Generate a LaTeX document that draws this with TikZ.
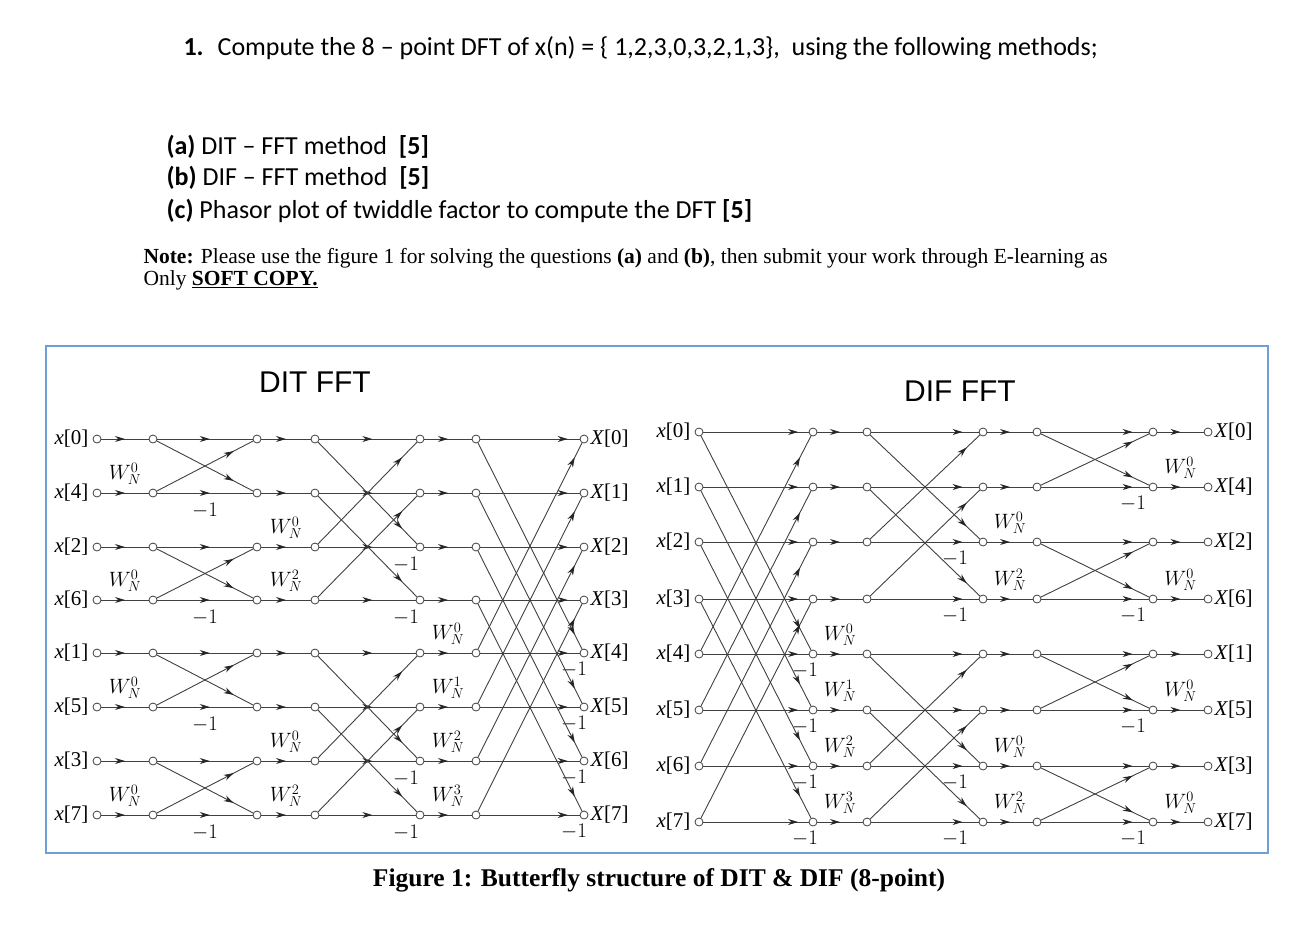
\documentclass[tikz,border=0pt]{standalone}
\usepackage{fontspec}
\setmainfont{Liberation Serif}
\newfontfamily\calfnt{Carlito}
\newfontfamily\arsfnt{Liberation Sans}
\usetikzlibrary{arrows.meta,decorations.markings,calc}
\begin{document}
\begin{tikzpicture}[x=1pt,y=-1pt,
  ln/.style={draw=black!75,line width=0.9pt},
  am/.style={ln,postaction={decorate},decoration={markings,mark=at position #1 with {\arrow[black!85]{Stealth[length=10pt,width=6pt]}}}},
  am/.default=0.55,
  nd/.style={circle,draw=black!75,fill=white,line width=0.8pt,inner sep=0pt,minimum size=8pt},
  lb/.style={font=\fontsize{21}{21}\selectfont},
  tw/.style={font=\fontsize{20}{20}\selectfont,inner sep=0pt},
  hd/.style={anchor=west,font=\calfnt\fontsize{26}{26}\selectfont},
  nt/.style={anchor=west,font=\fontsize{21.5}{21.5}\selectfont}]
\useasboundingbox (0,0) rectangle (1304,932);
% header
\node[hd] (h1) at (180,48) {\textbf{1.}\hspace{14pt}Compute the 8 – point DFT of x(n) = \{ 1,2,3,0,3,2,1,3\},\ \ using the following methods;};
\node[hd] (h2) at (163,147) {\textbf{(a)} DIT – FFT method\ \ \textbf{[5]}};
\node[hd] (h3) at (163,178) {\textbf{(b)} DIF – FFT method\ \ \textbf{[5]}};
\node[hd] (h4) at (163,211) {\textbf{(c)}\ Phasor plot of twiddle factor to compute the DFT \textbf{[5]}};
\node[nt] (n1) at (140,258) {\textbf{Note:} Please use the figure 1 for solving the questions \textbf{(a)} and \textbf{(b)}, then submit your work through E-learning as};
\node[nt] (n2) at (140,280) {Only \textbf{\underline{SOFT COPY.}}};
\draw[draw={rgb,255:red,110;green,160;blue,215},line width=1.2pt] (46,346) rectangle (1268,853);
\node[font=\arsfnt\fontsize{30}{30}\selectfont] (t1) at (315,382) {DIT FFT};
\node[font=\arsfnt\fontsize{30}{30}\selectfont] (t2) at (960,391) {DIF FFT};
\node[font=\bfseries\fontsize{25.5}{25.5}\selectfont] (cap) at (659,880) {Figure 1: Butterfly structure of DIT \& DIF (8-point)};
% ---------------- DIT ----------------
\foreach \r/\y in {0/439,1/493,2/547,3/600,4/653,5/707,6/761,7/815}{
  \foreach \c/\x in {0/97,1/153,2/257,3/315,4/420,5/476,6/584}{
    \node[nd] (a\c-\r) at (\x,\y) {};
  }
}
\foreach \r/\t in {0/0,1/4,2/2,3/6,4/1,5/5,6/3,7/7}{
  \node[lb,anchor=east,inner sep=4pt] (ai\r) at (a0-\r.west) {\textit{x}[\t]};
  \node[lb,anchor=west,inner sep=2pt] (ao\r) at (a6-\r.east) {\textit{X}[\r]};
}
\foreach \r in {0,...,7}{
  \draw[am=0.5] (a0-\r) -- (a1-\r);
  \draw[am=0.55] (a1-\r) -- (a2-\r);
  \draw[am=0.5] (a2-\r) -- (a3-\r);
  \draw[am=0.55] (a3-\r) -- (a4-\r);
  \draw[am=0.5] (a4-\r) -- (a5-\r);
  \draw[am=0.88] (a5-\r) -- (a6-\r);
}
\foreach \p/\q in {0/1,2/3,4/5,6/7}{
  \draw[am=0.8] (a1-\p) -- (a2-\q);
  \draw[am=0.8] (a1-\q) -- (a2-\p);
  \node[tw] at ($(a0-\q)!0.5!(a1-\q)+(0,-19)$) {$W_N^0$};
  \node[tw] at ($(a1-\q)!0.5!(a2-\q)+(0,18)$) {$-1$};
}
\foreach \p/\q in {0/2,1/3,4/6,5/7}{
  \draw[am=0.85] (a3-\p) -- (a4-\q);
  \draw[am=0.85] (a3-\q) -- (a4-\p);
  \node[tw] at ($(a4-\q)+(-14,18)$) {$-1$};
}
\foreach \r/\w in {2/0,3/2,6/0,7/2}{
  \node[tw] at ($(a2-\r)!0.5!(a3-\r)+(0,-19)$) {$W_N^{\w}$};
}
\foreach \p/\q in {0/4,1/5,2/6,3/7}{
  \draw[am=0.93] (a5-\p) -- (a6-\q);
  \draw[am=0.93] (a5-\q) -- (a6-\p);
  \node[tw] at ($(a6-\q)+(-10,17)$) {$-1$};
}
\foreach \r/\w in {4/0,5/1,6/2,7/3}{
  \node[tw] at ($(a4-\r)!0.5!(a5-\r)+(0,-19)$) {$W_N^{\w}$};
}
% ---------------- DIF ----------------
\foreach \r/\y in {0/432,1/487,2/542,3/599,4/654,5/710,6/766,7/822}{
  \foreach \c/\x in {0/699,1/813,2/867,3/983,4/1037,5/1153,6/1208}{
    \node[nd] (b\c-\r) at (\x,\y) {};
  }
  \node[lb,anchor=east,inner sep=4pt] (bi\r) at (b0-\r.west) {\textit{x}[\r]};
}
\foreach \r/\t in {0/0,1/4,2/2,3/6,4/1,5/5,6/3,7/7}{
  \node[lb,anchor=west,inner sep=2pt] (bo\r) at (b6-\r.east) {\textit{X}[\t]};
}
\foreach \r in {0,...,7}{
  \draw[am=0.9] (b0-\r) -- (b1-\r);
  \draw[am=0.5] (b1-\r) -- (b2-\r);
  \draw[am=0.85] (b2-\r) -- (b3-\r);
  \draw[am=0.5] (b3-\r) -- (b4-\r);
  \draw[am=0.85] (b4-\r) -- (b5-\r);
  \draw[am=0.5] (b5-\r) -- (b6-\r);
}
\foreach \p/\q in {0/4,1/5,2/6,3/7}{
  \draw[am=0.9] (b0-\p) -- (b1-\q);
  \draw[am=0.9] (b0-\q) -- (b1-\p);
  \node[tw] at ($(b1-\q)+(-8,17)$) {$-1$};
}
\foreach \r/\w in {4/0,5/1,6/2,7/3}{
  \node[tw] at ($(b1-\r)!0.5!(b2-\r)+(0,-19)$) {$W_N^{\w}$};
}
\foreach \p/\q in {0/2,1/3,4/6,5/7}{
  \draw[am=0.88] (b2-\p) -- (b3-\q);
  \draw[am=0.88] (b2-\q) -- (b3-\p);
  \node[tw] at ($(b3-\q)+(-28,17)$) {$-1$};
}
\foreach \r/\w in {2/0,3/2,6/0,7/2}{
  \node[tw] at ($(b3-\r)!0.5!(b4-\r)+(0,-19)$) {$W_N^{\w}$};
}
\foreach \p/\q in {0/1,2/3,4/5,6/7}{
  \draw[am=0.85] (b4-\p) -- (b5-\q);
  \draw[am=0.85] (b4-\q) -- (b5-\p);
  \node[tw] at ($(b5-\q)+(-20,17)$) {$-1$};
  \node[tw] at ($(b5-\q)!0.5!(b6-\q)+(0,-19)$) {$W_N^0$};
}
\end{tikzpicture}
\end{document}
